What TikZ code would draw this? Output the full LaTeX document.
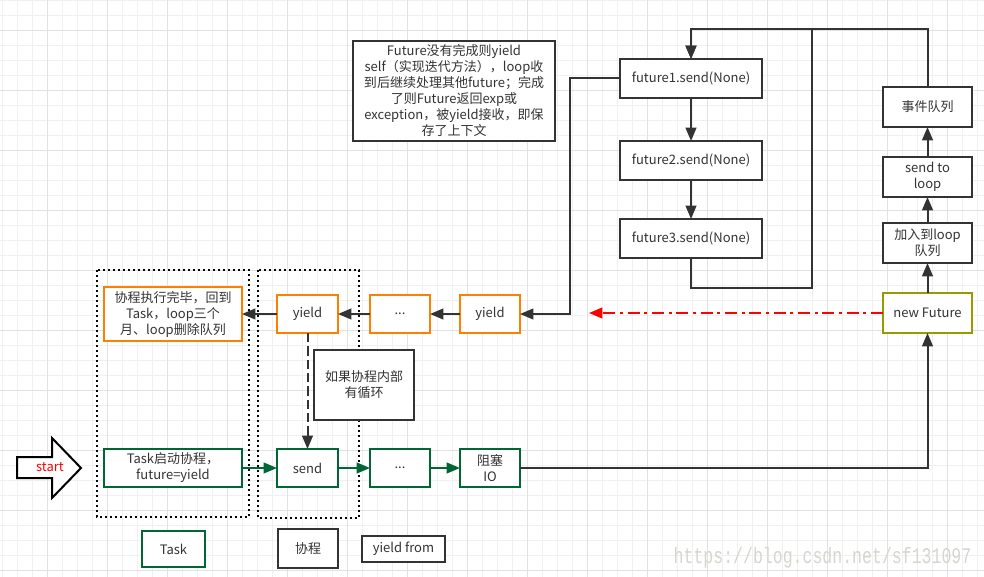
\documentclass[tikz,border=0pt]{standalone}
\usepackage{fontspec}
\usepackage{graphicx}
\newfontfamily\cjk{Noto Sans CJK SC}
\newfontfamily\wmfont{Liberation Mono}
\usetikzlibrary{arrows.meta}
\definecolor{dk}{HTML}{333333}
\definecolor{orangeC}{HTML}{FF8000}
\definecolor{greenC}{HTML}{006633}
\definecolor{oliveC}{HTML}{999900}
\definecolor{gridminor}{HTML}{F0F0F0}
\definecolor{gridmajor}{HTML}{E2E2E2}
\definecolor{wm}{HTML}{D6D6D0}
\tikzset{
  wh/.style 2 args={minimum width=#1*0.75pt, minimum height=#2*0.75pt},
  base/.style={draw, fill=white, inner sep=0pt, outer sep=0pt,
    font=\cjk\fontsize{9.75pt}{12pt}\selectfont, text=dk, align=center, line width=1.5pt},
  obox/.style={base, draw=orangeC},
  gbox/.style={base, draw=greenC},
  kbox/.style={base, draw=dk},
  fbox/.style={base, draw=oliveC},
  arr/.style={draw=dk, line width=1.5pt, -{Triangle[length=10pt,width=8pt]}},
  garr/.style={arr, draw=greenC},
  dashedarr/.style={arr, dash pattern=on 7pt off 3pt},
  redarr/.style={draw=red, line width=1.5pt, dash pattern=on 9pt off 3.5pt on 2.25pt off 3.5pt,
    -{Triangle[length=10pt,width=8pt]}},
  dotbox/.style={draw=black, line width=1.5pt, dash pattern=on 1.5pt off 2.25pt},
}
\begin{document}
\begin{tikzpicture}[x=0.75pt, y=-0.75pt]
\useasboundingbox (0,0) rectangle (984,577);
\fill[white] (0,0) rectangle (984,577);
% grid
\foreach \gx in {2.5,17.5,...,984} \draw[gridminor, line width=0.75pt] (\gx,0) -- (\gx,577);
\foreach \gy in {0.5,15.5,...,577} \draw[gridminor, line width=0.75pt] (0,\gy) -- (984,\gy);
\foreach \gx in {47.5,107.5,...,984} \draw[gridmajor, line width=0.75pt] (\gx,0) -- (\gx,577);
\foreach \gy in {30.5,90.5,...,577} \draw[gridmajor, line width=0.75pt] (0,\gy) -- (984,\gy);

% watermark
\node[text=wm, font=\wmfont\fontsize{12.4pt}{14pt}\selectfont, inner sep=0pt, anchor=base] (wmark) at (822.5,563) {\scalebox{1}[1.35]{https://blog.csdn.net/sf131097}};

% dotted groups
\draw[dotbox] (97,270) rectangle (249,517);
\draw[dotbox] (258,270) rectangle (359,518);

% top note
\node[kbox, wh={202}{100}, line width=2pt] (note) at (454,91) {Future没有完成则yield\\self（实现迭代方法），loop收\\到后继续处理其他future；完成\\了则Future返回exp或\\exception，被yield接收，即保\\存了上下文};

% future column
\node[kbox, wh={142}{39}] (f1) at (691,78.5) {future1.send(None)};
\node[kbox, wh={142}{39}] (f2) at (691,160.5) {future2.send(None)};
\node[kbox, wh={142}{39}] (f3) at (691,238.5) {future3.send(None)};

% right column
\node[kbox, wh={89}{40}] (evq) at (927.5,107) {事件队列};
\node[kbox, wh={89}{40}] (sendloop) at (927.5,177) {send to\\loop};
\node[kbox, wh={89}{40}] (addloop) at (927.5,243) {加入到loop\\队列};
\node[fbox, wh={89}{40}] (nf) at (927.5,313) {new Future};

% orange row
\node[obox, wh={138}{54}] (done) at (173,314) {协程执行完毕，回到\\Task，loop三个\\月、loop删除队列};
\node[obox, wh={61}{38}] (yL) at (307.5,314) {yield};
\node[obox, wh={60}{38}] (dO) at (400,314) {...};
\node[obox, wh={60}{38}] (yR) at (490,314) {yield};

% green row
\node[gbox, wh={138}{38}] (tstart) at (173,468) {Task启动协程，\\future=yield};
\node[gbox, wh={61}{38}] (send) at (307.5,468) {send};
\node[gbox, wh={60}{38}] (dG) at (400,468) {...};
\node[gbox, wh={60}{38}] (io) at (490,468) {阻塞\\IO};

% loop note
\node[kbox, wh={100}{70}, line width=2pt] (loopnote) at (364,385) {如果协程内部\\有循环};

% start arrow
\draw[black, line width=1.5pt, fill=white, line join=miter]
  (17,457) -- (52,457) -- (52,438) -- (81,468) -- (52,498) -- (52,478) -- (17,478) -- cycle;
\node[text=red, font=\cjk\fontsize{9.75pt}{12pt}\selectfont, inner sep=0pt] (startlbl) at (50,467) {start};

% legend
\node[gbox, wh={63}{36}] (lgTask) at (173.5,549) {Task};
\node[kbox, wh={60}{39}] (lgCo) at (308,548.5) {协程};
\node[kbox, wh={83}{26}] (lgYf) at (403.5,549) {yield from};

% connectors
\coordinate (tl) at (691,29);
\coordinate (br) at (812,288);
\coordinate (jc) at (570,314);
\coordinate (redend) at (589,313);

\draw[arr] (f1) -- (f2);
\draw[arr] (f2) -- (f3);
\draw[arr] (f3.south) |- (br) |- (tl) -- (f1.north);
\draw[arr] (evq.north) |- (tl) -- (f1.north);
\draw[arr] (f1.west) -| (jc) -- (yR.east);
\draw[arr] (yR) -- (dO);
\draw[arr] (dO) -- (yL);
\draw[arr] (yL) -- (done);
\draw[dashedarr] (yL) -- (send);
\draw[garr] (tstart) -- (send);
\draw[garr] (send) -- (dG);
\draw[garr] (dG) -- (io);
\draw[arr] (io.east) -| (nf.south);
\draw[arr] (nf) -- (addloop);
\draw[arr] (addloop) -- (sendloop);
\draw[arr] (sendloop) -- (evq);
\draw[redarr] (nf.west) -- (redend);
\end{tikzpicture}
\end{document}
